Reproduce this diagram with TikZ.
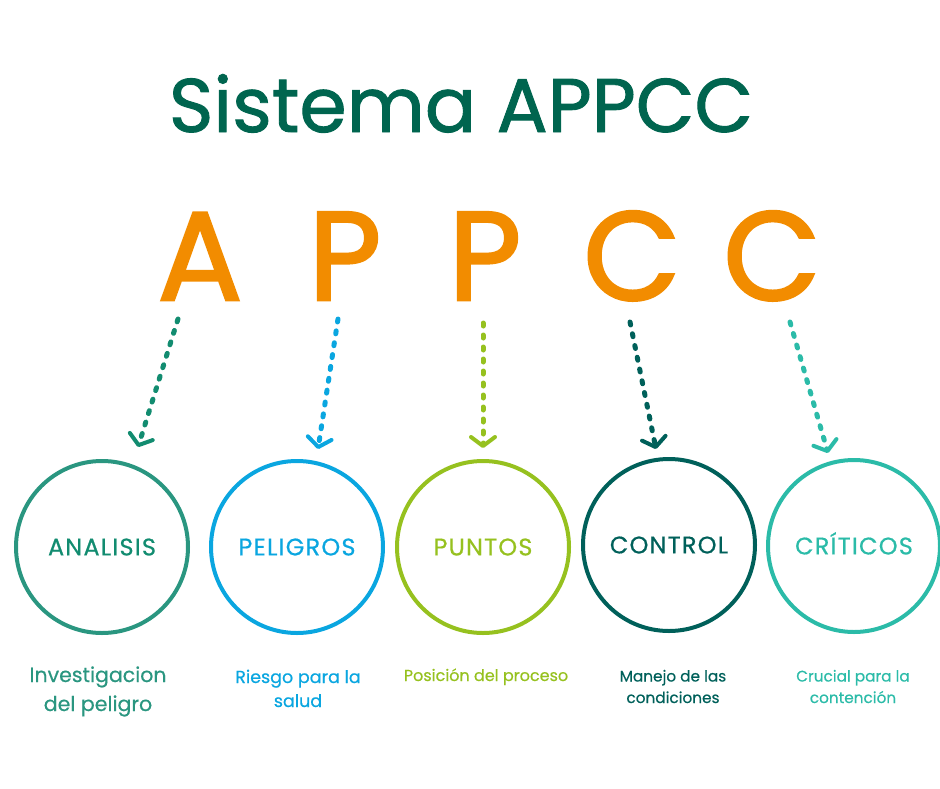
\documentclass[tikz,border=0pt]{standalone}
\usepackage{fontspec}
\setmainfont{Poppins}
\usetikzlibrary{arrows.meta}
\definecolor{titlegreen}{HTML}{00654F}
\definecolor{orng}{HTML}{F28C00}
\definecolor{cA}{HTML}{2A9680}
\definecolor{tA}{HTML}{128C70}
\definecolor{cB}{HTML}{0AA6E0}
\definecolor{cC}{HTML}{96C11F}
\definecolor{cD}{HTML}{00605A}
\definecolor{cE}{HTML}{2BBBA8}
\tikzset{
  bigletter/.style={text=orng, font=\fontsize{126}{126}\selectfont\addfontfeature{FakeBold=2}, anchor=base, inner sep=0pt},
  ring/.style={circle, draw=#1, line width=4pt, minimum size=172pt, inner sep=0pt},
  ringtext/.style={text=#1, font=\fontsize{24}{24}\selectfont\addfontfeature{LetterSpace=5,FakeBold=0.6}, text height=16.8pt, text depth=0pt, inner sep=0pt},
  dotarrow/.style={draw=#1, line width=5pt, line cap=round, dash pattern=on 3pt off 9pt,
     -{Straight Barb[length=9pt,width=24pt,line width=4pt,round]}},
  desc/.style={text=#1, align=center, anchor=base, inner sep=0pt}
}
\begin{document}
\begin{tikzpicture}[x=1pt,y=-1pt]
\useasboundingbox (0,0) rectangle (940,788);
\node[text=titlegreen, font=\fontsize{76}{76}\selectfont\addfontfeature{FakeBold=1.2}, anchor=base, inner sep=0pt] (title) at (461,132) {Sistema APPCC};

\node[bigletter] (L1) at (200,300) {A};
\node[bigletter] (L2) at (345,300) {P};
\node[bigletter] (L3) at (485,300) {P};
\node[bigletter] (L4) at (632,300) {C};
\node[bigletter] (L5) at (772,300) {C};

\node[ring=cA] (C1) at (102,547) {};
\node[ring=cB] (C2) at (297,547) {};
\node[ring=cC] (C3) at (483,547) {};
\node[ring=cD] (C4) at (669,545) {};
\node[ring=cE] (C5) at (854,546) {};

\node[ringtext=tA] (T1) at (C1.center) {ANALISIS};
\node[ringtext=cB] (T2) at (C2.center) {PELIGROS};
\node[ringtext=cC] (T3) at (C3.center) {PUNTOS};
\node[ringtext=cD] (T4) at (C4.center) {CONTROL};
\node[ringtext=cE] (T5) at (C5.center) {CRÍTICOS};

\coordinate (s1) at (178,319); \coordinate (e1) at (138,447);
\coordinate (s2) at (338,319); \coordinate (e2) at (318,449);
\coordinate (s3) at (483,323); \coordinate (e3) at (483,448);
\coordinate (s4) at (630,322); \coordinate (e4) at (656,449);
\coordinate (s5) at (790,322); \coordinate (e5) at (828,453);

\draw[dotarrow=tA] (s1) -- (e1);
\draw[dotarrow=cB] (s2) -- (e2);
\draw[dotarrow=cC] (s3) -- (e3);
\draw[dotarrow=cD] (s4) -- (e4);
\draw[dotarrow=cE] (s5) -- (e5);

\node[desc=cA, font=\fontsize{20.5}{29}\selectfont\addfontfeature{FakeBold=0.5}] (D1) at (98,711) {Investigacion\\del peligro};
\node[desc=cB, font=\fontsize{17.5}{24}\selectfont\addfontfeature{FakeBold=0.5}] (D2) at (298,707) {Riesgo para la\\salud};
\node[desc=cC, font=\fontsize{16}{22}\selectfont\addfontfeature{FakeBold=0.5}] (D3) at (486,681) {Posición del proceso};
\node[desc=cD, font=\fontsize{15.3}{21.5}\selectfont\addfontfeature{FakeBold=0.5}] (D4) at (673,703) {Manejo de las\\condiciones};
\node[desc=cE, font=\fontsize{15.3}{21.5}\selectfont\addfontfeature{FakeBold=0.5}] (D5) at (853,703) {Crucial para la\\contención};
\end{tikzpicture}
\end{document}
